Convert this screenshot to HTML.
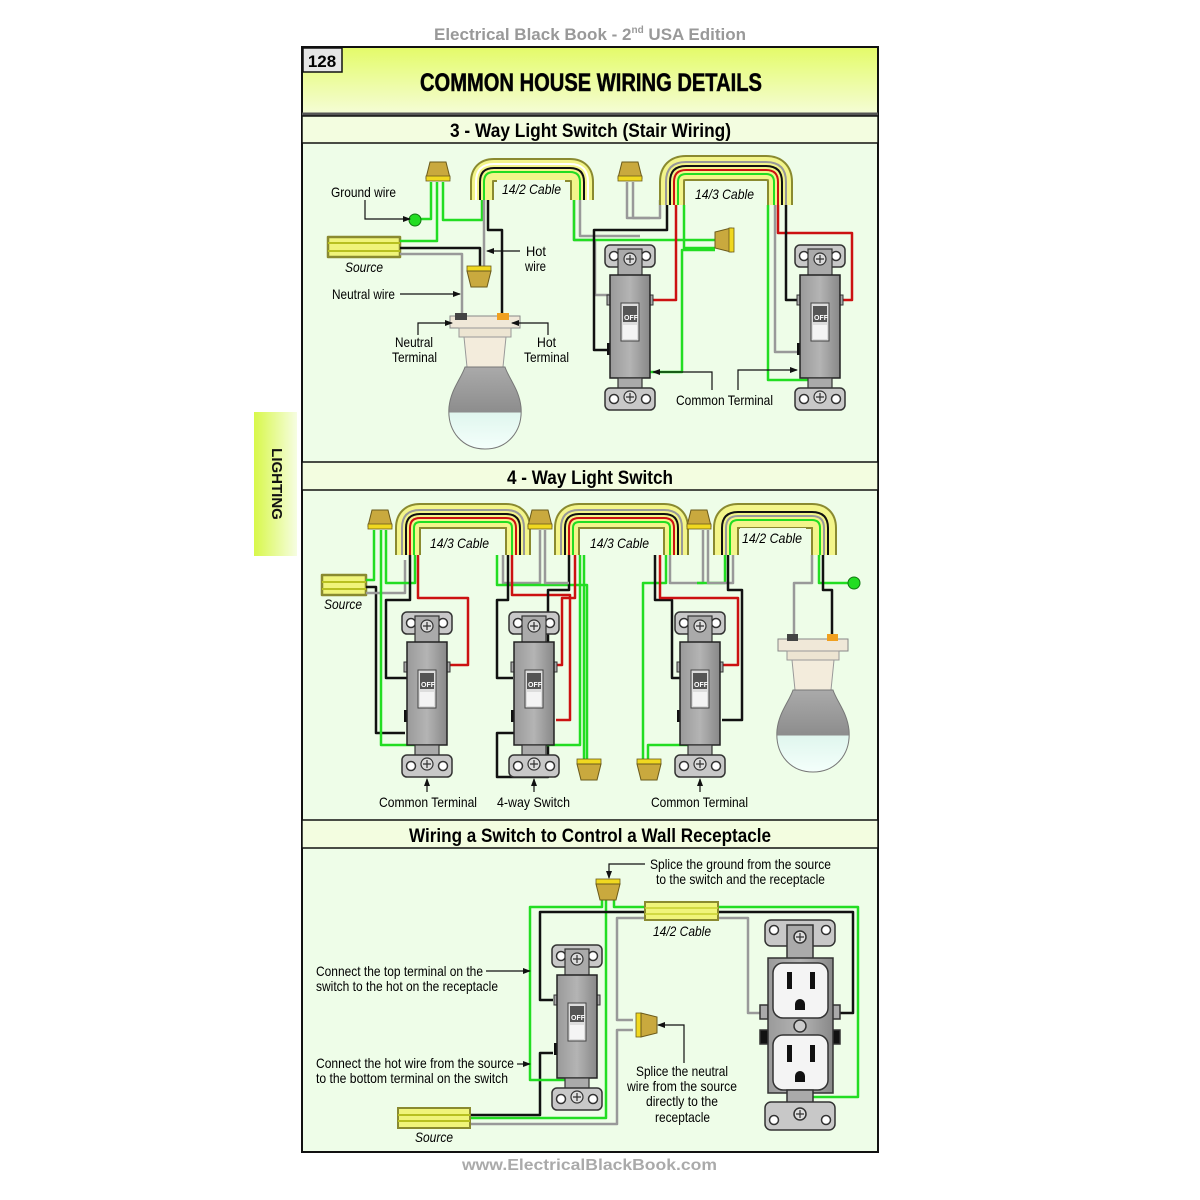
<!DOCTYPE html>
<html><head><meta charset="utf-8"><style>
html,body{margin:0;padding:0;background:#fff;width:1200px;height:1200px;overflow:hidden}
svg{display:block}
text{font-family:"Liberation Sans",sans-serif}
</style></head><body>
<svg width="1200" height="1200" viewBox="0 0 1200 1200" xmlns="http://www.w3.org/2000/svg">
<defs>
<linearGradient id="hdr" x1="0" y1="0" x2="0" y2="1"><stop offset="0" stop-color="#e4fb6a"/><stop offset="1" stop-color="#f5fdd8"/></linearGradient>
<linearGradient id="tab" x1="0" y1="0" x2="1" y2="0"><stop offset="0" stop-color="#d8f84a"/><stop offset="1" stop-color="#f6fde2"/></linearGradient>
<linearGradient id="body" x1="0" y1="0" x2="1" y2="0"><stop offset="0" stop-color="#9a9a9a"/><stop offset="0.5" stop-color="#b4b4b4"/><stop offset="1" stop-color="#888"/></linearGradient>
<linearGradient id="bulb" x1="0" y1="0" x2="0" y2="1"><stop offset="0" stop-color="#aaa"/><stop offset="0.55" stop-color="#8d8d8d"/><stop offset="0.56" stop-color="#e0f6ee"/><stop offset="1" stop-color="#f4fffb"/></linearGradient>
<g id="sw">
 <rect x="-25" y="0" width="50" height="22" rx="5" fill="#c8c8c8" stroke="#333" stroke-width="1.5"/>
 <circle cx="-16" cy="11" r="4.5" fill="#fff" stroke="#333" stroke-width="1.5"/>
 <circle cx="16" cy="11" r="4.5" fill="#fff" stroke="#333" stroke-width="1.5"/>
 <rect x="-12" y="4" width="24" height="28" fill="#aaa" stroke="#333" stroke-width="1.2"/>
 <circle cx="0" cy="14" r="6" fill="#ddd" stroke="#333" stroke-width="1.2"/>
 <path d="M-4 14h8M0 10v8" stroke="#333" stroke-width="1.2"/>
 <rect x="-23" y="50" width="6" height="10" fill="#aaa" stroke="#333"/>
 <rect x="17" y="50" width="6" height="10" fill="#aaa" stroke="#333"/>
 <rect x="-23" y="98" width="6" height="12" fill="#111"/>
 <rect x="-20" y="30" width="40" height="103" fill="url(#body)" stroke="#222" stroke-width="1.5"/>
 <rect x="-9" y="58" width="18" height="38" fill="#ddd" stroke="#444"/>
 <rect x="-7" y="61" width="14" height="16" fill="#555"/>
 <rect x="-7" y="80" width="14" height="14" fill="#f4f4f4"/>
 <rect x="-12" y="133" width="24" height="12" fill="#aaa" stroke="#333" stroke-width="1.2"/>
 <rect x="-25" y="143" width="50" height="22" rx="5" fill="#c8c8c8" stroke="#333" stroke-width="1.5"/>
 <circle cx="-16" cy="154" r="4.5" fill="#fff" stroke="#333" stroke-width="1.5"/>
 <circle cx="16" cy="154" r="4.5" fill="#fff" stroke="#333" stroke-width="1.5"/>
 <circle cx="0" cy="152" r="6" fill="#ddd" stroke="#333" stroke-width="1.2"/>
 <path d="M-4 152h8M0 148v8" stroke="#333" stroke-width="1.2"/>
</g>
<g id="bulbg">
 <rect x="-35" y="0" width="70" height="12" fill="#f0e8d8" stroke="#888"/>
 <rect x="-26" y="12" width="52" height="9" fill="#ede5d2" stroke="#999"/>
 <path d="M-21 21h42l-3 30h-36z" fill="#f3ecdc" stroke="#999"/>
 <path d="M-20 51h40c4 12 14 22 16 40c2 25-14 42-36 42s-38-17-36-42c2-18 12-28 16-40z" fill="url(#bulb)" stroke="#777"/>
</g>
<g id="nut">
 <path d="M-8 -10h16l4 16h-24z" fill="#c9a93e" stroke="#6b5a1a"/>
 <rect x="-12" y="4" width="24" height="5" fill="#f0d820" stroke="#6b5a1a" stroke-width="0.8"/>
</g>
<g id="nutd">
 <rect x="-12" y="-9" width="24" height="5" fill="#f0d820" stroke="#6b5a1a" stroke-width="0.8"/>
 <path d="M-12 -4h24l-4 16h-16z" fill="#c9a93e" stroke="#6b5a1a"/>
</g>
<marker id="ar" markerWidth="8" markerHeight="8" refX="7" refY="4" orient="auto" markerUnits="userSpaceOnUse"><path d="M0 1L8 4L0 7z" fill="#111"/></marker>
</defs>

<text x="590" y="40" text-anchor="middle" font-size="17" font-weight="bold" fill="#999">Electrical Black Book - 2<tspan font-size="10" dy="-7">nd</tspan><tspan dy="7"> USA Edition</tspan></text>
<text x="462" y="1170" font-size="16" font-weight="bold" fill="#aaa" textLength="255" lengthAdjust="spacingAndGlyphs">www.ElectricalBlackBook.com</text>

<rect x="254" y="412" width="43" height="144" fill="url(#tab)"/>
<text transform="translate(272,484) rotate(90)" text-anchor="middle" font-size="15" font-weight="bold" fill="#111">LIGHTING</text>

<rect x="302" y="47" width="576" height="1105" fill="#eefde8" stroke="#111" stroke-width="2"/>
<rect x="303" y="48" width="574" height="67" fill="url(#hdr)"/>
<line x1="302" y1="114" x2="878" y2="114" stroke="#555" stroke-width="3"/>
<rect x="303" y="48" width="39" height="24" fill="#e6e6e6" stroke="#111" stroke-width="1.5"/>
<text x="322" y="67" text-anchor="middle" font-size="17" font-weight="bold">128</text>
<text x="420" y="91" font-size="25" font-weight="bold" stroke="#111" stroke-width="0.6" textLength="342" lengthAdjust="spacingAndGlyphs">COMMON HOUSE WIRING DETAILS</text>

<g fill="#f3fde0" stroke="#111" stroke-width="1.5">
<rect x="302" y="116" width="576" height="27"/>
<rect x="302" y="462" width="576" height="28"/>
<rect x="302" y="820" width="576" height="28"/>
</g>
<g font-size="19" font-weight="bold" lengthAdjust="spacingAndGlyphs">
<text x="450" y="137" textLength="281" lengthAdjust="spacingAndGlyphs">3 - Way Light Switch (Stair Wiring)</text>
<text x="507" y="484" textLength="166" lengthAdjust="spacingAndGlyphs">4 - Way Light Switch</text>
<text x="409" y="842" textLength="362" lengthAdjust="spacingAndGlyphs">Wiring a Switch to Control a Wall Receptacle</text>
</g>

<!-- ================= 3-WAY ================= -->
<g fill="none" stroke-width="2.5" stroke-linejoin="round">
 <rect x="328" y="237" width="72" height="20" fill="#f0f47a" stroke="#8a8a30"/>
 <path d="M328 243h72M328 251h72" stroke="#b8c020" stroke-width="2"/>
 <path d="M400 241H437V182" stroke="#22dd22"/>
 <path d="M400 248H480V270" stroke="#111"/>
 <path d="M400 254H462V318" stroke="#999"/>
 <path d="M431 182V219H417" stroke="#22dd22"/>
 <path d="M443 182V220H482V200" stroke="#22dd22"/>
 <path d="M488 200V230H502V316" stroke="#111"/>
 <path d="M484 200V275" stroke="#999"/>
 <path d="M574 200V240H595V295H609" stroke="#999"/>
 <path d="M580 200V236H640" stroke="#999"/>
 <path d="M574 200V240H715" stroke="#22dd22"/>
 <path d="M627 182V218H660V200" stroke="#999"/>
 <path d="M633 182V218H650" stroke="#999"/>
 <path d="M667 205V230H594V350H609" stroke="#111"/>
 <path d="M676 205V300H651" stroke="#cc1111"/>
 <path d="M684 205V248H715" stroke="#22dd22"/>
 <path d="M715 250H682V372H630" stroke="#22dd22"/>
 <path d="M768 205V380H820" stroke="#22dd22"/>
 <path d="M778 205V233H852V300H842" stroke="#cc1111"/>
 <path d="M786 205V300H798" stroke="#111"/>
 <path d="M775 205V352H798" stroke="#999"/>
 <path d="M482 200V182Q482 170 494 170H570Q582 170 582 182V200" stroke="#8a8a30" stroke-width="24"/>
 <path d="M482 200V182Q482 170 494 170H570Q582 170 582 182V200" stroke="#f3f58a" stroke-width="20"/>
 <path d="M476 200V182Q476 164 494 164H570Q588 164 588 182V200" stroke="#fff" stroke-width="2"/>
 <path d="M480 200V182Q480 168 494 168H570Q584 168 584 182V200" stroke="#111" stroke-width="2"/>
 <path d="M484 200V182Q484 172 494 172H570Q580 172 580 182V200" stroke="#22dd22" stroke-width="2"/>
 <path d="M672 205V182Q672 168 686 168H766Q780 168 780 182V205" stroke="#8a8a30" stroke-width="26"/>
 <path d="M672 205V182Q672 168 686 168H766Q780 168 780 182V205" stroke="#f3f58a" stroke-width="22"/>
 <path d="M666 205V182Q666 162 686 162H766Q786 162 786 182V205" stroke="#999" stroke-width="2"/>
 <path d="M670 205V182Q670 166 686 166H766Q782 166 782 182V205" stroke="#111" stroke-width="2"/>
 <path d="M674 205V182Q674 170 686 170H766Q778 170 778 182V205" stroke="#cc1111" stroke-width="2"/>
 <path d="M678 205V182Q678 174 686 174H766Q774 174 774 182V205" stroke="#22dd22" stroke-width="2"/>
</g>
<rect x="497" y="180" width="68" height="20" fill="#eefde8"/>
<rect x="690" y="184" width="70" height="21" fill="#eefde8"/>
<g font-size="14" font-style="italic">
<text x="502" y="194" textLength="59" lengthAdjust="spacingAndGlyphs">14/2 Cable</text>
<text x="695" y="199" textLength="59" lengthAdjust="spacingAndGlyphs">14/3 Cable</text>
<text x="345" y="272" textLength="38" lengthAdjust="spacingAndGlyphs">Source</text>
</g>
<circle cx="415" cy="220" r="6" fill="#22dd22" stroke="#117711"/>
<use href="#nut" x="438" y="172"/>
<use href="#nut" x="630" y="172"/>
<use href="#nutd" x="479" y="275"/>
<g transform="translate(725,240) rotate(-90)"><use href="#nut"/></g>
<use href="#bulbg" x="485" y="316"/>
<rect x="455" y="313" width="12" height="7" fill="#444"/>
<rect x="497" y="313" width="12" height="7" fill="#f0a020"/>
<use href="#sw" x="630" y="245"/>
<use href="#sw" x="820" y="245"/>
<g font-size="7" font-weight="bold" fill="#fff"><text x="624" y="320">OFF</text><text x="814" y="320">OFF</text></g>
<g fill="none" stroke="#111" stroke-width="1.2">
 <path d="M365 200V219H410" marker-end="url(#ar)"/>
 <path d="M400 294H460" marker-end="url(#ar)"/>
 <path d="M520 251H487" marker-end="url(#ar)"/>
 <path d="M418 335V323H452" marker-end="url(#ar)"/>
 <path d="M548 335V323H512" marker-end="url(#ar)"/>
 <path d="M712 390V372H653" marker-end="url(#ar)"/>
 <path d="M738 390V370H797" marker-end="url(#ar)"/>
</g>
<g font-size="14">
<text x="331" y="197" textLength="65" lengthAdjust="spacingAndGlyphs">Ground wire</text>
<text x="526" y="256" textLength="20" lengthAdjust="spacingAndGlyphs">Hot</text><text x="525" y="271" textLength="21" lengthAdjust="spacingAndGlyphs">wire</text>
<text x="332" y="299" textLength="63" lengthAdjust="spacingAndGlyphs">Neutral wire</text>
<text x="395" y="347" textLength="38" lengthAdjust="spacingAndGlyphs">Neutral</text><text x="392" y="362" textLength="45" lengthAdjust="spacingAndGlyphs">Terminal</text>
<text x="537" y="347" textLength="19" lengthAdjust="spacingAndGlyphs">Hot</text><text x="524" y="362" textLength="45" lengthAdjust="spacingAndGlyphs">Terminal</text>
<text x="676" y="405" textLength="97" lengthAdjust="spacingAndGlyphs">Common Terminal</text>
</g>

<!-- ================= 4-WAY ================= -->
<g fill="none" stroke-width="2.5" stroke-linejoin="round">
 <rect x="322" y="575" width="44" height="20" fill="#f0f47a" stroke="#8a8a30"/>
 <path d="M322 582h44M322 589h44" stroke="#b8c020" stroke-width="2"/>
 <path d="M366 580H374V530" stroke="#22dd22"/>
 <path d="M366 587H376V733H405" stroke="#111"/>
 <path d="M366 593H405V560" stroke="#999"/>
 <path d="M381 530V745H427" stroke="#22dd22"/>
 <path d="M386 530V583H415V555" stroke="#22dd22"/>
 <path d="M410 555V600H386V678H407" stroke="#111"/>
 <path d="M418 555V598H468V665H449" stroke="#cc1111"/>
 <path d="M503 555V583H540V530" stroke="#999"/>
 <path d="M497 555V585H587V760" stroke="#22dd22"/>
 <path d="M508 555V600H497V678H513" stroke="#111"/>
 <path d="M512 555V595H570V720H556" stroke="#cc1111"/>
 <path d="M514 733H497V777H548V590H569V555" stroke="#111"/>
 <path d="M575 555V598H562V665H556" stroke="#cc1111"/>
 <path d="M545 530V583H569" stroke="#999"/>
 <path d="M580 555V745H534" stroke="#22dd22"/>
 <path d="M584 555V760" stroke="#22dd22"/>
 <path d="M666 555V583H643V760" stroke="#22dd22"/>
 <path d="M655 555V600H672V678H680" stroke="#111"/>
 <path d="M660 555V598H738V665H722" stroke="#cc1111"/>
 <path d="M648 760V745H700" stroke="#22dd22"/>
 <path d="M670 555V583H703V530" stroke="#999"/>
 <path d="M725 555V583H697" stroke="#22dd22"/>
 <path d="M708 530V583H733V555" stroke="#999"/>
 <path d="M728 555V590H742V720H722" stroke="#111"/>
 <path d="M812 555V583H794V636" stroke="#999"/>
 <path d="M819 555V583H848" stroke="#22dd22"/>
 <path d="M823 555V590H832V636" stroke="#111"/>
 <path d="M408 555V528Q408 516 420 516H506Q518 516 518 528V555" stroke="#8a8a30" stroke-width="26"/>
 <path d="M408 555V528Q408 516 420 516H506Q518 516 518 528V555" stroke="#f3f58a" stroke-width="22"/>
 <path d="M402 555V528Q402 510 420 510H506Q524 510 524 528V555" stroke="#999" stroke-width="2"/>
 <path d="M406 555V528Q406 514 420 514H506Q520 514 520 528V555" stroke="#111" stroke-width="2"/>
 <path d="M410 555V528Q410 518 420 518H506Q516 518 516 528V555" stroke="#cc1111" stroke-width="2"/>
 <path d="M414 555V528Q414 522 420 522H506Q512 522 512 528V555" stroke="#22dd22" stroke-width="2"/>
 <path d="M567 555V528Q567 516 579 516H664Q676 516 676 528V555" stroke="#8a8a30" stroke-width="26"/>
 <path d="M567 555V528Q567 516 579 516H664Q676 516 676 528V555" stroke="#f3f58a" stroke-width="22"/>
 <path d="M561 555V528Q561 510 579 510H664Q682 510 682 528V555" stroke="#999" stroke-width="2"/>
 <path d="M565 555V528Q565 514 579 514H664Q678 514 678 528V555" stroke="#111" stroke-width="2"/>
 <path d="M569 555V528Q569 518 579 518H664Q674 518 674 528V555" stroke="#cc1111" stroke-width="2"/>
 <path d="M573 555V528Q573 522 579 522H664Q670 522 670 528V555" stroke="#22dd22" stroke-width="2"/>
 <path d="M726 555V528Q726 516 738 516H812Q824 516 824 528V555" stroke="#8a8a30" stroke-width="26"/>
 <path d="M726 555V528Q726 516 738 516H812Q824 516 824 528V555" stroke="#f3f58a" stroke-width="22"/>
 <path d="M722 555V528Q722 512 738 512H812Q828 512 828 528V555" stroke="#111" stroke-width="2"/>
 <path d="M726 555V528Q726 516 738 516H812Q824 516 824 528V555" stroke="#999" stroke-width="2"/>
 <path d="M730 555V528Q730 520 738 520H812Q820 520 820 528V555" stroke="#22dd22" stroke-width="2"/>
</g>
<rect x="428" y="534" width="64" height="20" fill="#eefde8"/>
<rect x="587" y="534" width="64" height="20" fill="#eefde8"/>
<rect x="740" y="528" width="66" height="20" fill="#eefde8"/>
<g font-size="14" font-style="italic">
<text x="430" y="548" textLength="59" lengthAdjust="spacingAndGlyphs">14/3 Cable</text>
<text x="590" y="548" textLength="59" lengthAdjust="spacingAndGlyphs">14/3 Cable</text>
<text x="742" y="543" textLength="60" lengthAdjust="spacingAndGlyphs">14/2 Cable</text>
<text x="324" y="609" textLength="38" lengthAdjust="spacingAndGlyphs">Source</text>
</g>
<circle cx="854" cy="583" r="6" fill="#22dd22" stroke="#117711"/>
<use href="#nut" x="380" y="520"/>
<use href="#nut" x="540" y="520"/>
<use href="#nut" x="699" y="520"/>
<use href="#nutd" x="589" y="768"/>
<use href="#nutd" x="649" y="768"/>
<use href="#bulbg" x="813" y="639"/>
<rect x="787" y="634" width="11" height="7" fill="#444"/>
<rect x="827" y="634" width="11" height="7" fill="#f0a020"/>
<use href="#sw" x="427" y="612"/>
<use href="#sw" x="534" y="612"/>
<use href="#sw" x="700" y="612"/>
<g font-size="7" font-weight="bold" fill="#fff"><text x="421" y="687">OFF</text><text x="528" y="687">OFF</text><text x="694" y="687">OFF</text></g>
<g fill="none" stroke="#111" stroke-width="1.2">
 <path d="M427 792V779" marker-end="url(#ar)"/>
 <path d="M534 792V779" marker-end="url(#ar)"/>
 <path d="M700 792V779" marker-end="url(#ar)"/>
</g>
<g font-size="14">
<text x="379" y="807" textLength="98" lengthAdjust="spacingAndGlyphs">Common Terminal</text>
<text x="497" y="807" textLength="73" lengthAdjust="spacingAndGlyphs">4-way Switch</text>
<text x="651" y="807" textLength="97" lengthAdjust="spacingAndGlyphs">Common Terminal</text>
</g>

<!-- ================= RECEPTACLE ================= -->
<g fill="none" stroke-width="2.5" stroke-linejoin="round">
 <path d="M470 1115H540V1053H553" stroke="#111"/>
 <path d="M470 1118H606V888" stroke="#22dd22"/>
 <path d="M470 1124H617V1030H633" stroke="#999"/>
 <path d="M602 888V907H530V1080H578" stroke="#22dd22"/>
 <path d="M614 888V907H858V1097H812" stroke="#22dd22"/>
 <path d="M553 1000H540V912H853V1013H836" stroke="#111"/>
 <path d="M633 1020H617V918H748V1013H768" stroke="#999"/>
</g>
<rect x="398" y="1108" width="72" height="20" fill="#f0f47a" stroke="#8a8a30" stroke-width="2"/>
<path d="M398 1115h72M398 1121h72" stroke="#b8c020" stroke-width="2"/>
<rect x="645" y="902" width="73" height="18" fill="#f0f47a" stroke="#8a8a30" stroke-width="2"/>
<path d="M645 908h73M645 914h73" stroke="#c8d030" stroke-width="1.5"/>
<use href="#nutd" x="608" y="888"/>
<g transform="translate(645,1025) rotate(-90)"><use href="#nutd"/></g>
<use href="#sw" x="577" y="945"/>
<text x="571" y="1020" font-size="7" font-weight="bold" fill="#fff">OFF</text>
<g stroke="#333" stroke-width="1.5">
 <rect x="765" y="920" width="70" height="26" rx="6" fill="#c8c8c8"/>
 <circle cx="774" cy="930" r="4.5" fill="#fff"/><circle cx="826" cy="930" r="4.5" fill="#fff"/>
 <rect x="787" y="925" width="26" height="36" fill="#aaa"/>
 <circle cx="800" cy="937" r="6" fill="#ddd"/>
 <rect x="760" y="1005" width="8" height="14" fill="#aaa"/>
 <rect x="832" y="1005" width="8" height="14" fill="#aaa"/>
 <rect x="760" y="1030" width="8" height="14" fill="#111"/>
 <rect x="832" y="1030" width="8" height="14" fill="#111"/>
 <rect x="768" y="958" width="65" height="135" fill="url(#body)"/>
 <rect x="773" y="963" width="55" height="55" rx="10" fill="#f4f4f4"/>
 <rect x="773" y="1035" width="55" height="55" rx="10" fill="#f4f4f4"/>
 <circle cx="800" cy="1026" r="6" fill="#ccc"/>
 <rect x="787" y="1090" width="26" height="14" fill="#aaa"/>
 <rect x="765" y="1102" width="70" height="28" rx="6" fill="#c8c8c8"/>
 <circle cx="774" cy="1120" r="4.5" fill="#fff"/><circle cx="826" cy="1120" r="4.5" fill="#fff"/>
 <circle cx="800" cy="1114" r="6" fill="#ddd"/>
</g>
<g fill="#111">
 <rect x="787" y="972" width="5" height="17"/><rect x="810" y="972" width="5" height="17"/>
 <path d="M795 1010v-6a5 5 0 0 1 10 0v6z"/>
 <rect x="787" y="1045" width="5" height="17"/><rect x="810" y="1045" width="5" height="17"/>
 <path d="M795 1082v-6a5 5 0 0 1 10 0v6z"/>
</g>
<path d="M796 937h8M800 933v8M796 1114h8M800 1110v8" stroke="#333" stroke-width="1.2"/>
<g fill="none" stroke="#111" stroke-width="1.2">
 <path d="M645 864H609V878" marker-end="url(#ar)"/>
 <path d="M486 971H530" marker-end="url(#ar)"/>
 <path d="M517 1064H530" marker-end="url(#ar)"/>
 <path d="M684 1063V1025H658" marker-end="url(#ar)"/>
</g>
<g font-size="14">
<text x="650" y="869" textLength="181" lengthAdjust="spacingAndGlyphs">Splice the ground from the source</text>
<text x="656" y="884" textLength="169" lengthAdjust="spacingAndGlyphs">to the switch and the receptacle</text>
<text x="653" y="936" font-style="italic" textLength="58" lengthAdjust="spacingAndGlyphs">14/2 Cable</text>
<text x="316" y="976" textLength="167" lengthAdjust="spacingAndGlyphs">Connect the top terminal on the</text>
<text x="316" y="991" textLength="182" lengthAdjust="spacingAndGlyphs">switch to the hot on the receptacle</text>
<text x="316" y="1068" textLength="198" lengthAdjust="spacingAndGlyphs">Connect the hot wire from the source</text>
<text x="316" y="1083" textLength="192" lengthAdjust="spacingAndGlyphs">to the bottom terminal on the switch</text>
<text x="636" y="1076" textLength="92" lengthAdjust="spacingAndGlyphs">Splice the neutral</text>
<text x="627" y="1091" textLength="110" lengthAdjust="spacingAndGlyphs">wire from the source</text>
<text x="646" y="1106" textLength="72" lengthAdjust="spacingAndGlyphs">directly to the</text>
<text x="655" y="1122" textLength="55" lengthAdjust="spacingAndGlyphs">receptacle</text>
<text x="415" y="1142" font-style="italic" textLength="38" lengthAdjust="spacingAndGlyphs">Source</text>
</g>
</svg>
</body></html>
